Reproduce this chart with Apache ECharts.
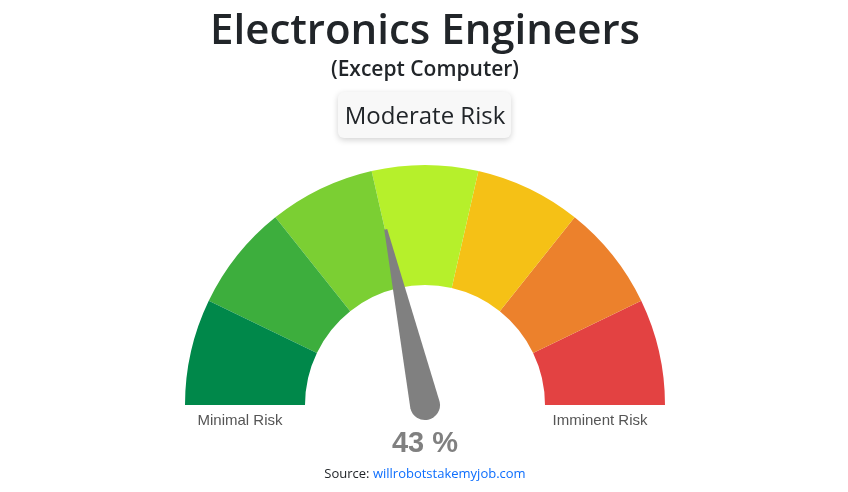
<!DOCTYPE html>
<html>
<head>
<meta charset="utf-8">
<script src="https://cdn.jsdelivr.net/npm/echarts@6/dist/echarts.min.js"></script>
<style>
html,body{margin:0;padding:0;background:#fff;}
#chart{width:848px;height:492px;}
</style>
</head>
<body>
<div id="chart"></div>
<script>
// ---- data ----
const titleText = 'Electronics Engineers';
const subtitleText = '(Except Computer)';
const riskLabel = 'Moderate Risk';
const riskValue = 43;
const bandColors = ['#00884a', '#3dae3d', '#7bcf33', '#b6f02b', '#f5c116', '#ec812c', '#e34242'];
const endLabels = ['Minimal Risk', 'Imminent Risk'];
const sourcePrefix = 'Source: ';
const sourceLink = 'willrobotstakemyjob.com';

const stops = bandColors.map((c, i) => [(i + 1) / bandColors.length, c]);

const chart = echarts.init(document.getElementById('chart'), null, {renderer: 'canvas'});
const sansUI = '"Open Sans", "Noto Sans", sans-serif';
const arial = '"Liberation Sans", Arial, sans-serif';

chart.setOption({
  animation: false,
  backgroundColor: '#fff',
  graphic: [
    {type: 'text', x: 425, y: 32, style: {text: titleText, font: '600 42px ' + sansUI, fill: '#212529', align: 'center', verticalAlign: 'middle'}},
    {type: 'text', x: 425, y: 70, style: {text: subtitleText, font: '600 21px ' + sansUI, fill: '#212529', align: 'center', verticalAlign: 'middle'}},
    {type: 'rect', shape: {x: 338, y: 92, width: 173, height: 46, r: 6},
     style: {fill: '#f8f8f8', shadowBlur: 6, shadowOffsetY: 2, shadowColor: 'rgba(0,0,0,0.18)'}},
    {type: 'text', x: 425, y: 117, style: {text: riskLabel, font: '24px ' + sansUI, fill: '#212529', align: 'center', verticalAlign: 'middle'}},
    {type: 'text', x: 240, y: 421, style: {text: endLabels[0], font: '15px ' + arial, fill: '#555', align: 'center', verticalAlign: 'middle'}},
    {type: 'text', x: 600, y: 421, style: {text: endLabels[1], font: '15px ' + arial, fill: '#555', align: 'center', verticalAlign: 'middle'}},
    {type: 'text', x: 425, y: 474, style: {
      text: '{a|' + sourcePrefix + '}{b|' + sourceLink + '}', align: 'center', verticalAlign: 'middle',
      rich: {a: {font: '13px ' + sansUI, fill: '#212529'}, b: {font: '13px ' + sansUI, fill: '#0d6efd'}}
    }}
  ],
  series: [{
    type: 'gauge',
    center: [425, 405],
    radius: 240,
    startAngle: 180,
    endAngle: 0,
    min: 0,
    max: 100,
    splitNumber: 7,
    axisLine: {lineStyle: {width: 120, color: stops}},
    splitLine: {show: false},
    axisTick: {show: false},
    axisLabel: {show: false},
    pointer: {
      icon: 'path://M13.5 0 L16.5 0 L30 180 A15 15 0 0 1 0 180 Z',
      length: 195,
      width: 30,
      offsetCenter: [0, 15],
      itemStyle: {color: '#808080'}
    },
    anchor: {show: false},
    title: {show: false},
    detail: {
      valueAnimation: false,
      offsetCenter: [0, 39],
      formatter: '{value} %',
      fontSize: 29,
      fontWeight: 'bold',
      fontFamily: arial,
      color: '#808080'
    },
    data: [{value: riskValue}]
  }]
});
</script>
</body>
</html>
